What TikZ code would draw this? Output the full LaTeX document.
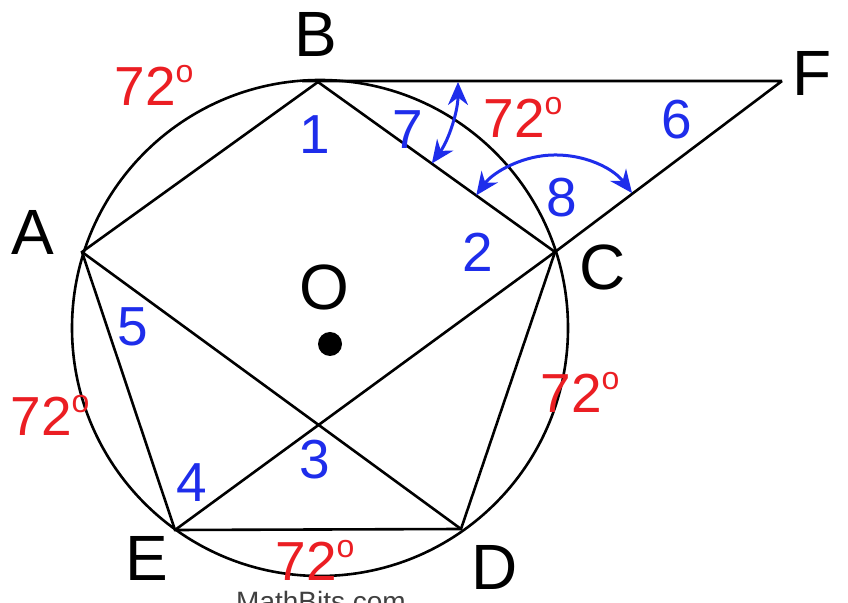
\documentclass[tikz,border=0pt]{standalone}
\usepackage{fontspec}
\setmainfont{Liberation Sans}
\usetikzlibrary{positioning, arrows.meta}

\definecolor{angblue}{RGB}{30,45,235}
\definecolor{arcred}{RGB}{235,30,35}
\newcommand{\dgo}{\raisebox{0.42em}{\fontsize{32}{32}\selectfont o}}

\tikzset{
  vert/.style={inner sep=0pt, font=\fontsize{64}{64}\selectfont},
  num/.style={inner sep=0pt, text=angblue, font=\fontsize{55}{55}\selectfont},
  arcdeg/.style={inner sep=0pt, text=arcred, font=\fontsize{55}{55}\selectfont},
  seg/.style={line width=2.6pt},
  dot/.style={circle, fill, inner sep=0pt, minimum size=24pt},
  angarrow/.style={angblue, line width=3pt,
    {Stealth[length=23pt,width=20pt]}-{Stealth[length=23pt,width=20pt]}}
}

\begin{document}
\begin{tikzpicture}[x=1pt,y=1pt]
        \useasboundingbox (0,0) rectangle (848,602);
        % points on the circle
        \coordinate (Oc) at (320,274);
        \coordinate (A) at (82,350);
        \coordinate (B) at (318,520);
        \coordinate (C) at (555,350);
        \coordinate (D) at (461,73);
        \coordinate (E) at (175,72);
        \coordinate (F) at (782,521);
        \coordinate (T) at (302,521);

        \draw[seg] (Oc) circle (248);
        \draw[seg] (A) -- (B) -- (C) -- (D) -- (E) -- cycle;
        \draw[seg] (A) -- (D) (E) -- (C);
        \draw[seg] (T) -- (F) (C) -- (F);
        \node[dot] (o) at (330,258) {};

        % angle arrows
        \draw[angarrow] ([shift=(-35.6:140)]B) arc (-35.6:0:140);
        \draw[angarrow] ([shift=(37.4:97)]C) arc (37.4:144.3:97);

        % vertex labels
        \node[vert] (lB) at (316,568) {B};
        \node[vert] (lF) at (812,529) {F};
        \node[vert] (lA) at (33,370) {A};
        \node[vert] (lC) at (603,335) {C};
        \node[vert] (lE) at (147,44) {E};
        \node[vert] (lD) at (495,35) {D};
        \node[vert] (lO) at (324,315) {O};

        % angle numbers
        \node[num] (n1) at (315,467) {1};
        \node[num] (n2) at (478,350) {2};
        \node[num] (n3) at (315,142) {3};
        \node[num] (n4) at (192,119) {4};
        \node[num] (n5) at (133,275) {5};
        \node[num] (n6) at (677,482) {6};
        \node[num] (n7) at (408,472) {7};
        \node[num] (n8) at (562,404) {8};

        % arcs
        \node[arcdeg] (d1) at (154,517) {72\dgo};
        \node[arcdeg] (d2) at (523,485) {72\dgo};
        \node[arcdeg] (d3) at (50,187) {72\dgo};
        \node[arcdeg] (d4) at (580,210) {72\dgo};
        \node[arcdeg] (d5) at (315,42) {72\dgo};

        \node[anchor=base, text=black!75, font=\fontsize{28}{28}\selectfont] (mb) at (321,-9) {MathBits.com};
\end{tikzpicture}
\end{document}
